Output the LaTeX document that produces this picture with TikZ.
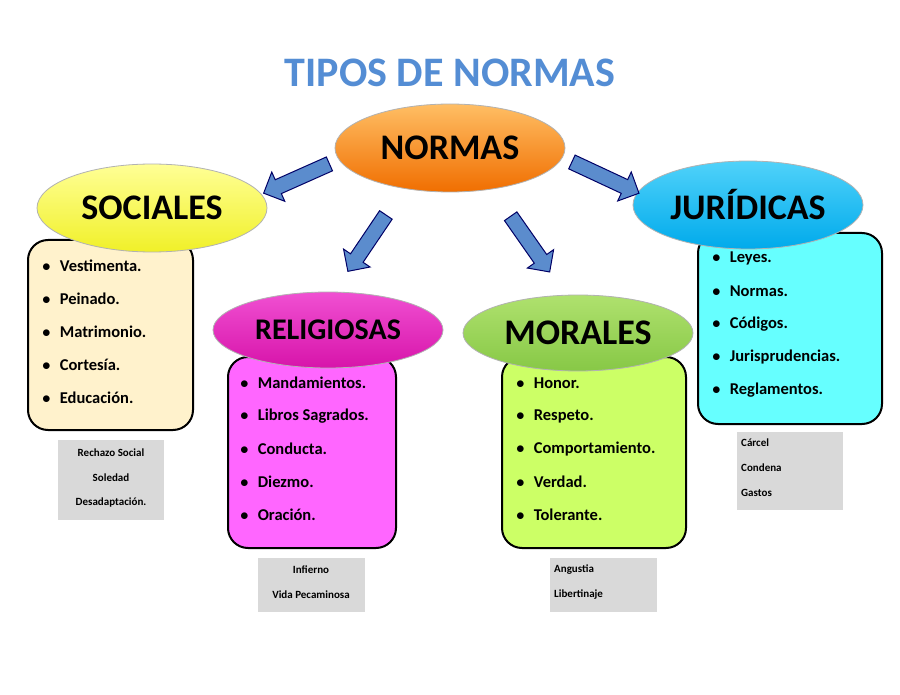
\documentclass[tikz,border=0pt]{standalone}
\usepackage{fontspec}
\setmainfont{Carlito}
\usetikzlibrary{shapes.geometric,shapes.arrows}
\begin{document}
\begin{tikzpicture}[x=1pt,y=-1pt,
 ell/.style={ellipse,draw=black!30,line width=0.8pt,minimum width=230pt,minimum height=88pt,inner sep=0pt,font=\bfseries\fontsize{36}{40}\selectfont},
 lbox/.style={draw=black,line width=2pt,rounded corners=20pt},
 gbox/.style={fill=black!15,draw=none},
 item/.style={anchor=west,font=\bfseries\fontsize{16.5}{18}\selectfont,inner sep=0pt},
 small/.style={font=\bfseries\fontsize{11}{12}\selectfont,inner sep=0pt},
 barrow/.style={single arrow,draw=blue!40!black,line width=1pt,fill={rgb,255:red,91;green,140;blue,205},minimum width=32pt,single arrow head extend=5pt,single arrow tip angle=90,inner sep=4pt}]
\useasboundingbox (0,0) rectangle (900,695);
\fill[white] (0,0) rectangle (900,695);
\node (title) at (450,73) {\bfseries\fontsize{42}{46}\selectfont\color[RGB]{84,141,212}TIPOS DE NORMAS};
% boxes
\draw[lbox,fill={rgb,255:red,255;green,242;blue,204}] (28,240) rectangle (193,430);
\draw[lbox,fill={rgb,255:red,255;green,102;blue,255}] (228,357) rectangle (396,548);
\draw[lbox,fill={rgb,255:red,204;green,255;blue,102}] (502,357) rectangle (686,548);
\draw[lbox,fill={rgb,255:red,102;green,255;blue,255}] (698,233) rectangle (882,424);
% ellipses
\node[ell,top color={rgb,255:red,255;green,190;blue,100},bottom color={rgb,255:red,240;green,110;blue,0}] (normas) at (450,148) {NORMAS};
\node[ell,top color={rgb,255:red,255;green,255;blue,150},bottom color={rgb,255:red,240;green,240;blue,40}] (sociales) at (152,208) {SOCIALES};
\node[ell,top color={rgb,255:red,80;green,210;blue,250},bottom color={rgb,255:red,0;green,170;blue,235}] (juridicas) at (748,205) {JURÍDICAS};
\node[ell,minimum height=76pt,font=\bfseries\fontsize{30}{34}\selectfont,top color={rgb,255:red,240;green,80;blue,210},bottom color={rgb,255:red,215;green,20;blue,170}] (religiosas) at (328,330) {RELIGIOSAS};
\node[ell,minimum height=76pt,top color={rgb,255:red,175;green,225;blue,110},bottom color={rgb,255:red,135;green,200;blue,70}] (morales) at (578,333) {MORALES};
% arrows
\node[barrow,minimum height=72pt,rotate=204] (a1) at (300,177) {};
\node[barrow,minimum height=68pt,rotate=236] (a2) at (369,240) {};
\node[barrow,minimum height=68pt,rotate=305] (a3) at (528,241) {};
\node[barrow,minimum height=74pt,rotate=335] (a4) at (602,176) {};
% items
\foreach \t [count=\i] in {Vestimenta.,Peinado.,Matrimonio.,Cortesía.,Educación.}
  \node[item] (s\i) at (42,266+33*\i-33) {$\bullet$\hspace{9pt}\t};
\foreach \t [count=\i] in {Mandamientos.,Libros Sagrados.,Conducta.,Diezmo.,Oración.}
  \node[item] (r\i) at (240,383+33*\i-33) {$\bullet$\hspace{9pt}\t};
\foreach \t [count=\i] in {Honor.,Respeto.,Comportamiento.,Verdad.,Tolerante.}
  \node[item] (m\i) at (516,383+33*\i-33) {$\bullet$\hspace{9pt}\t};
\foreach \t [count=\i] in {Leyes.,Normas.,Códigos.,Jurisprudencias.,Reglamentos.}
  \node[item] (j\i) at (712,258+33*\i-33) {$\bullet$\hspace{9pt}\t};
% gray boxes
\fill[gbox] (58,440) rectangle (164,520);
\node[small] (g1) at (111,453) {Rechazo Social};
\node[small] (g2) at (111,478) {Soledad};
\node[small] (g3) at (111,503) {Desadaptación.};
\fill[gbox] (258,558) rectangle (365,612);
\node[small] (g4) at (311,570) {Infierno};
\node[small] (g5) at (311,595) {Vida Pecaminosa};
\fill[gbox] (550,558) rectangle (657,612);
\node[small,anchor=west] (g6) at (554,570) {Angustia};
\node[small,anchor=west] (g7) at (554,595) {Libertinaje};
\fill[gbox] (737,432) rectangle (843,510);
\node[small,anchor=west] (g8) at (741,443) {Cárcel};
\node[small,anchor=west] (g9) at (741,468) {Condena};
\node[small,anchor=west] (g10) at (741,493) {Gastos};
\end{tikzpicture}
\end{document}
